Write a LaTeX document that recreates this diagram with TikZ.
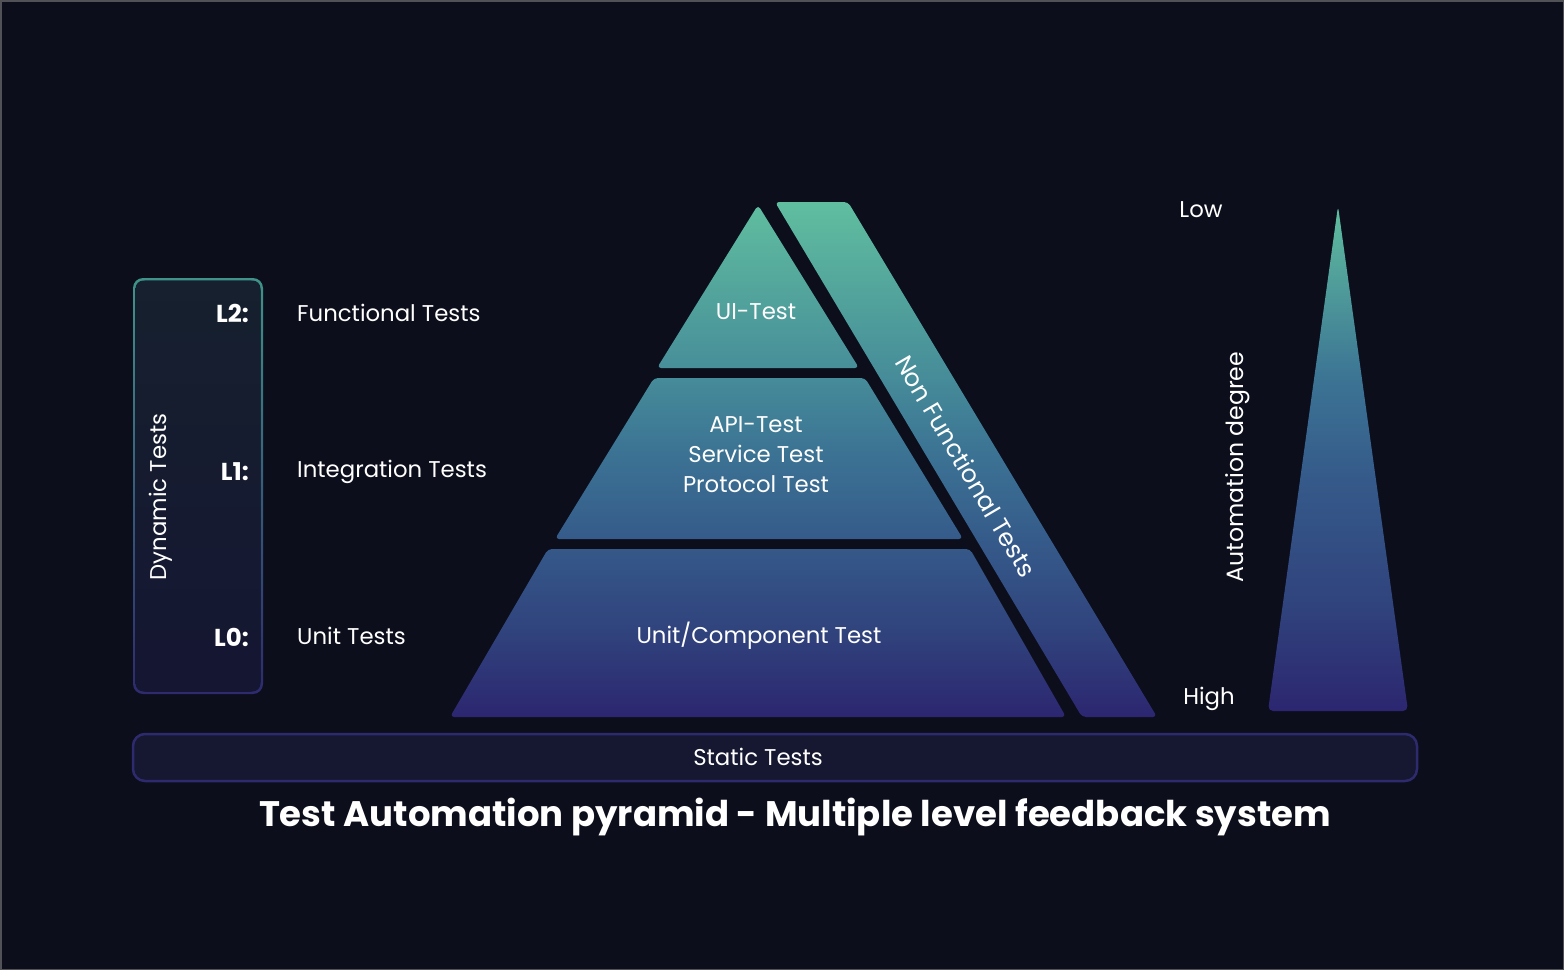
\documentclass[tikz,border=0pt]{standalone}
\usepackage{fontspec}
\setmainfont{Poppins}
\definecolor{bg}{HTML}{0C0E1C}
\definecolor{cT}{HTML}{60BE9F}
\definecolor{cU}{HTML}{468C99}
\definecolor{cM}{HTML}{3C7494}
\definecolor{cB}{HTML}{355A8A}
\definecolor{cL}{HTML}{30427C}
\definecolor{cP}{HTML}{2C2670}
\definecolor{boxtop}{HTML}{16202E}
\definecolor{boxbot}{HTML}{151632}
\definecolor{bordtop}{HTML}{3F9388}
\definecolor{bordbot}{HTML}{2E2A6E}
\definecolor{barfill}{HTML}{151830}
\definecolor{barline}{HTML}{2D2A6E}
\pgfdeclareverticalshading{pyr}{100bp}{color(0bp)=(cP); color(25bp)=(cP); color(33bp)=(cL); color(42bp)=(cB); color(51bp)=(cM); color(58bp)=(cU); color(75bp)=(cT); color(100bp)=(cT)}
\pgfdeclareverticalshading{auto}{100bp}{color(0bp)=(cP); color(25bp)=(cP); color(35bp)=(cL); color(48bp)=(cB); color(58bp)=(cM); color(75bp)=(cT); color(100bp)=(cT)}
\tikzset{
  lbl/.style={text=white, font=\fontsize{22.8}{26}\selectfont, inner sep=0pt},
  lvl/.style={text=white, font=\bfseries\fontsize{24.5}{28}\selectfont, inner sep=0pt, anchor=east},
  side/.style={text=white, font=\fontsize{22.8}{26}\selectfont, inner sep=0pt, anchor=west},
}
\begin{document}
\begin{tikzpicture}[x=1pt,y=-1pt]
\useasboundingbox (0,0) rectangle (1564,970);
\fill[bg] (0,0) rectangle (1564,970);
\draw[color=gray!60!bg, line width=1.5pt] (0.75,0.75) rectangle (1563.25,969.25);

% pyramid and non-functional band
\begin{scope}
\clip[rounded corners=4pt]
  (758,205) -- (859,368) -- (657,368) -- cycle
  (654,378) -- (865,378) -- (963,539) -- (555,539) -- cycle
  (548,549) -- (970,549) -- (1066,717) -- (450,717) -- cycle
  (775,202) -- (848,202) -- (1157,717) -- (1082,717) -- cycle;
\shade[shading=pyr] (440,202) rectangle (1170,717);
\end{scope}

% automation triangle
\shade[shading=auto, rounded corners=5pt] (1338,206) -- (1408,711) -- (1268,711) -- cycle;

% dynamic tests box
\shade[top color=bordtop, bottom color=bordbot, even odd rule, rounded corners=10pt]
  (133,278) rectangle (263,694) (135.5,280.5) rectangle (260.5,691.5);
\shade[top color=boxtop, bottom color=boxbot, rounded corners=8pt]
  (135.5,280.5) rectangle (260.5,691.5);

% static tests bar
\draw[line width=2.5pt, draw=barline, fill=barfill, rounded corners=12pt] (133,734) rectangle (1417,781);

% texts
\node[lbl, rotate=90] (dyn) at (161,497) {Dynamic Tests};
\node[lvl] (l2) at (249,313) {L2:};
\node[lvl] (l1) at (249,472) {L1:};
\node[lvl] (l0) at (249,637) {L0:};
\node[side] (ft) at (297,313) {Functional Tests};
\node[side] (it) at (297,472) {Integration Tests};
\node[side] (ut) at (297,636) {Unit Tests};

\node[lbl] (ui) at (756,312) {UI-Test};
\node[lbl, align=center, font=\fontsize{22.8}{30}\selectfont] (api) at (756,455) {API-Test\\Service Test\\Protocol Test};
\node[lbl] (unit) at (759,636) {Unit/Component Test};
\node[lbl, rotate=-59.5, font=\fontsize{24.5}{28}\selectfont] (nft) at (966,466) {Non Functional Tests};

\node[lbl] (low) at (1201,210) {Low};
\node[lbl] (high) at (1209,699) {High};
\node[lbl, rotate=90, font=\fontsize{23.6}{28}\selectfont] (ad) at (1238,467) {Automation degree};

\node[lbl] (st) at (758,757) {Static Tests};
\node[text=white, font=\bfseries\fontsize{35.5}{40}\selectfont, inner sep=0pt] (title) at (795,817) {Test Automation pyramid - Multiple level feedback system};
\end{tikzpicture}
\end{document}
